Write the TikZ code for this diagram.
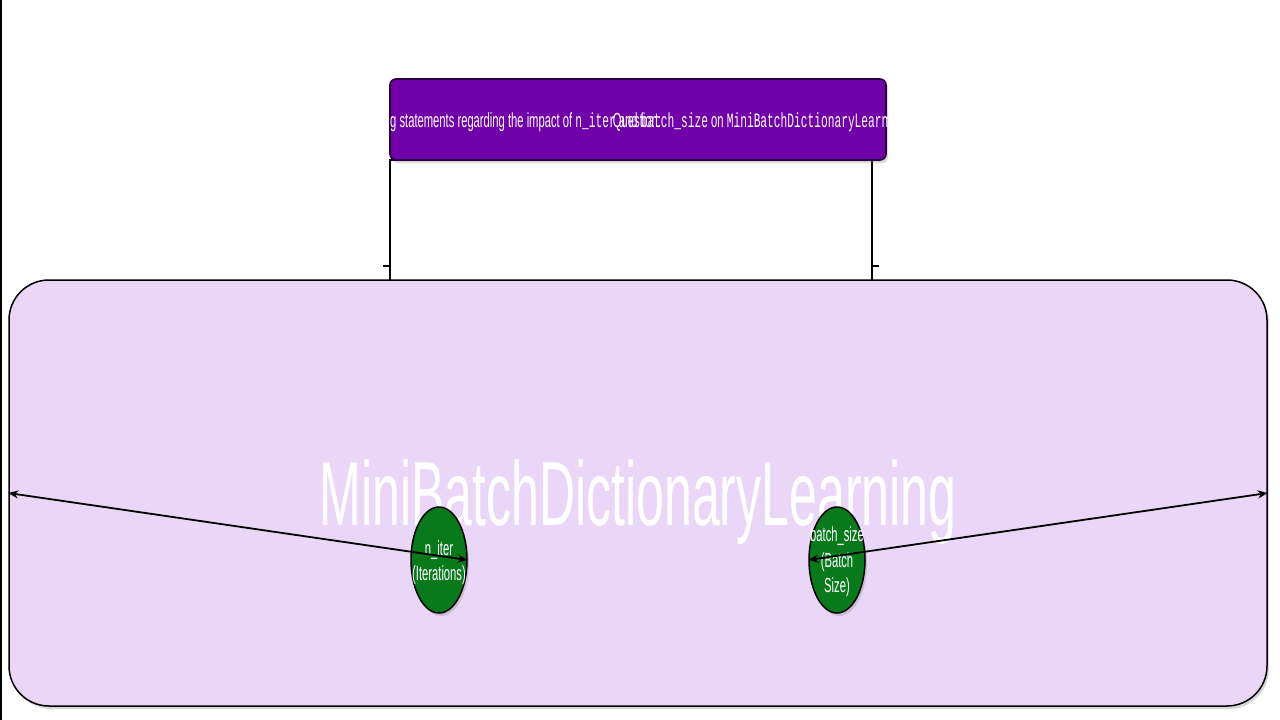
\documentclass[tikz,border=0pt]{standalone}
\usepackage{fontspec}
\setmainfont{Liberation Sans}
\newfontfamily\nsans[FakeStretch=0.55]{Liberation Sans}
\newfontfamily\nmono[FakeStretch=0.55]{Liberation Mono}
\usetikzlibrary{shapes.geometric,shadows,arrows.meta}
\definecolor{qpurple}{RGB}{112,0,168}
\definecolor{qborder}{RGB}{40,0,60}
\definecolor{lav}{RGB}{234,215,248}
\definecolor{pgreen}{RGB}{8,122,28}
\newcommand\mcode[1]{{\nmono #1}}
\tikzset{
  softshadow/.style={drop shadow={opacity=0.3,shadow xshift=2pt,shadow yshift=-3pt}},
  qbox/.style={rectangle,rounded corners=6pt,fill=qpurple,draw=qborder,line width=1.6pt,
    minimum width=496pt,minimum height=81pt,inner sep=0pt,softshadow},
  ansbox/.style={rectangle,draw=black,line width=1.3pt,fill=white,
    minimum width=482pt,minimum height=125pt,inner sep=0pt},
  mbbox/.style={rectangle,rounded corners=40pt,fill=lav,draw=black,line width=1.5pt,
    minimum width=1258pt,minimum height=426pt,inner sep=0pt,softshadow},
  param/.style={ellipse,fill=pgreen,draw=black,line width=1.5pt,
    minimum width=56pt,minimum height=106pt,inner sep=0pt,softshadow},
  wtext/.style={text=white,font=\nsans\fontsize{20.4}{25}\selectfont,inner sep=0pt,align=center},
  conn/.style={line width=1.8pt,{Stealth[length=10pt,width=8pt]}-{Stealth[length=10pt,width=8pt]}},
}
\begin{document}
\begin{tikzpicture}[x=1pt,y=-1pt]
\fill[white] (0,0) rectangle (1280,720);
\useasboundingbox (0,0) rectangle (1280,720);
\draw[line width=2pt] (1,0) -- (1,720);
% answer area (white box) behind the header
\node[ansbox] (ans) at (631,222.5) {};
\draw[line width=2pt] (383,266) -- (390,266);
\draw[line width=2pt] (872,266) -- (879,266);
% question header
\node[qbox] (q) at (638,119.5) {};
\begin{scope}
  \clip (390,79) rectangle (886,160);
  \node[wtext,anchor=base west] (qt) at (390,127.5)
    {\llap{Which of the followin}g statements regarding the impact of \mcode{n\_iter} and \mcode{batch\_size} on \mcode{MiniBatchDictionaryLearn}\rlap{ing?}};
\end{scope}
\node[wtext,anchor=base] (qlabel) at (637,127.5) {Question:};
% main container
\node[mbbox] (mb) at (638,493) {};
\node[text=white,font=\nsans\fontsize{91}{100}\selectfont,inner sep=0pt,anchor=base] (mbt) at (638,525) {MiniBatchDictionaryLearning};
% parameters
\node[param] (niter) at (439,560) {};
\node[wtext] (nitert) at (439,563) {n\_iter\\(Iterations)};
\node[param] (bsize) at (837,560) {};
\node[wtext,font=\nsans\fontsize{20.4}{25.5}\selectfont] (bsizet) at (837,562) {batch\_size\\(Batch\\Size)};
% connectors
\draw[conn] (mb.west) -- (niter.east);
\draw[conn] (mb.east) -- (bsize.west);
\end{tikzpicture}
\end{document}
